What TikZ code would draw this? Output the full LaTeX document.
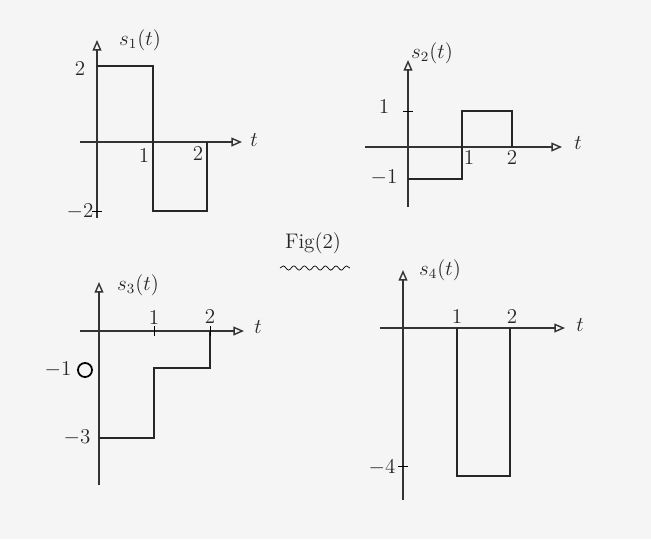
\documentclass[tikz,border=0pt]{standalone}
\usetikzlibrary{arrows.meta,decorations.pathmorphing}
\begin{document}
\begin{tikzpicture}[x=0.02cm,y=-0.02cm,
  ax/.style={draw=black!80,line width=0.8pt,-{Triangle[open,length=6pt,width=5pt]}},
  sig/.style={draw=black!85,line width=0.9pt},
  lab/.style={font=\large,text=black!85}]
\fill[black!4] (0,0) rectangle (651,539);
\useasboundingbox (0,0) rectangle (651,539);
% Plot 1
\coordinate (a1b) at (97,218); \coordinate (a1t) at (97,40);
\coordinate (t1l) at (80,142); \coordinate (t1r) at (242,142);
\draw[ax] (a1b) -- (a1t); \draw[ax] (t1l) -- (t1r);
\draw[sig] (97,66) -- (153,66) -- (153,211) -- (207,211) -- (207,142);
\draw (92,211) -- (102,211);
\node[lab] at (80,68) {2}; \node[lab] at (80,212) {$-2$};
\node[lab] at (144,155) {1}; \node[lab] at (198,153) {2};
\node[lab] at (254,140) {$t$}; \node[lab] at (140,40) {$s_1(t)$};
% Plot 2
\draw[ax] (408,207) -- (408,60); \draw[ax] (365,147) -- (562,147);
\draw[sig] (408,179) -- (462,179) -- (462,111) -- (512,111) -- (512,147);
\draw (403,111) -- (413,111);
\node[lab] at (384,106) {1}; \node[lab] at (384,178) {$-1$};
\node[lab] at (469,157) {1}; \node[lab] at (512,157) {2};
\node[lab] at (578,143) {$t$}; \node[lab] at (432,53) {$s_2(t)$};
% Fig
\node[lab] (fig) at (313,243) {Fig(2)};
\draw[decorate,decoration={snake,amplitude=1.2pt,segment length=6pt}] (280,268) -- (350,268);
% Plot 3
\draw[ax] (99,485) -- (99,282); \draw[ax] (80,331) -- (244,331);
\draw[sig] (99,438) -- (154,438) -- (154,368) -- (210,368) -- (210,331);
\draw (154,326) -- (154,336); \draw (210,326) -- (210,336);
\draw[line width=1pt] (85,370) circle (4pt);
\node[lab] at (58,370) {$-1$}; \node[lab] at (77,438) {$-3$};
\node[lab] at (154,317) {1}; \node[lab] at (210,316) {2};
\node[lab] at (258,327) {$t$}; \node[lab] at (138,285) {$s_3(t)$};
% Plot 4
\draw[ax] (403,500) -- (403,270); \draw[ax] (380,328) -- (565,328);
\draw[sig] (457,328) -- (457,476) -- (510,476) -- (510,328);
\draw (398,466) -- (408,466);
\node[lab] at (382,468) {$-4$};
\node[lab] at (457,316) {1}; \node[lab] at (512,316) {2};
\node[lab] at (580,325) {$t$}; \node[lab] at (440,270) {$s_4(t)$};
\end{tikzpicture}
\end{document}
